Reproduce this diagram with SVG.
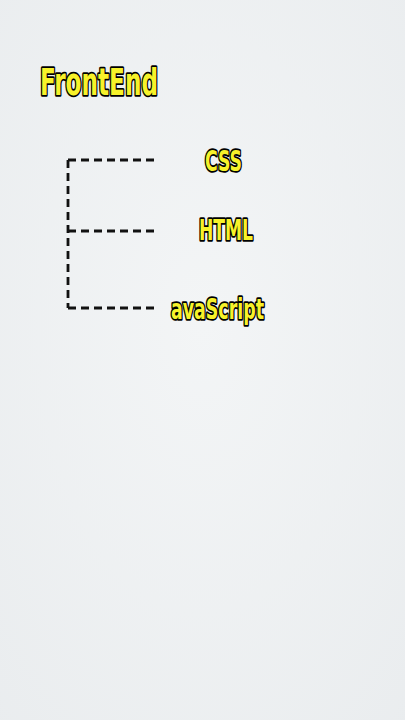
<svg xmlns="http://www.w3.org/2000/svg" width="405" height="720" viewBox="0 0 405 720">
<defs>
<radialGradient id="bg" cx="0.5" cy="0.45" r="0.8">
<stop offset="0" stop-color="#f3f5f6"/>
<stop offset="1" stop-color="#e9ecee"/>
</radialGradient>
</defs>
<style>
.lbl{font-family:"DejaVu Sans Condensed","DejaVu Sans","Liberation Sans",sans-serif;font-weight:bold;fill:#f7f22a;stroke:#000;stroke-width:3.5;paint-order:stroke;stroke-linejoin:round}
.dash{fill:none;stroke:#111;stroke-width:2.8;stroke-dasharray:8 5}
</style>
<rect width="405" height="720" fill="url(#bg)"/>
<g id="connectors">
<path class="dash" d="M68 160 H156"/>
<path class="dash" d="M68 160 V308"/>
<path class="dash" d="M68 231 H157"/>
<path class="dash" d="M68 308 H157"/>
</g>
<g id="frontend"><text class="lbl" x="40" y="95" font-size="38" textLength="118" lengthAdjust="spacingAndGlyphs">FrontEnd</text></g>
<g id="css"><text class="lbl" x="205" y="171" font-size="28" textLength="37" lengthAdjust="spacingAndGlyphs">CSS</text></g>
<g id="html"><text class="lbl" x="199" y="240" font-size="28" textLength="54" lengthAdjust="spacingAndGlyphs">HTML</text></g>
<g id="javascript"><text class="lbl" x="171" y="319" font-size="28" textLength="93" lengthAdjust="spacingAndGlyphs">avaScript</text></g>
</svg>
